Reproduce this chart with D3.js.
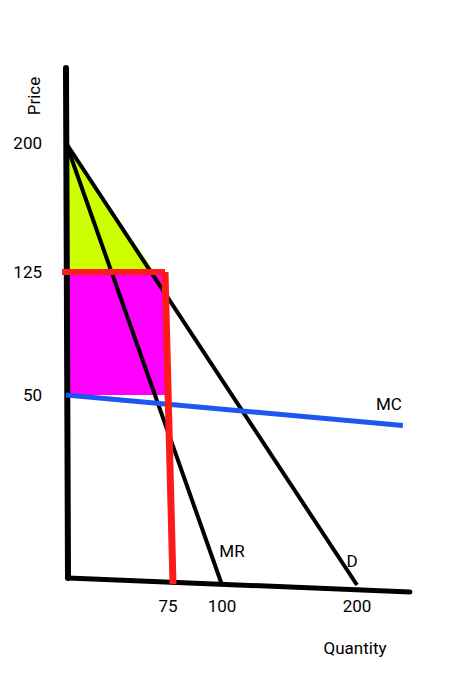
<!DOCTYPE html>
<html><head><meta charset="utf-8">
<script src="https://cdn.jsdelivr.net/npm/d3@7"></script>
<style>body{margin:0;background:#fff}</style>
</head><body>
<svg id="chart" width="450" height="700"></svg>
<script>
// data
const demand = [[0, 200], [200, 0]];
const marginalRevenue = [[0, 200], [100, 0]];
const marginalCost = [[0, 50], [234, 42]];
const monopolyQ = 75, monopolyP = 125, costP = 50;
const priceTicks = [200, 125, 50];
const quantityTicks = [75, 100, 200];

const svg = d3.select("#chart");
// the sketch is not drawn to scale, so use piecewise scales through its tick marks
const x = d3.scaleLinear().domain([0, 75, 100, 200]).range([66, 165, 222, 357]);
const y = d3.scaleLinear().domain([0, 50, 125, 200]).range([585, 395, 272, 143]);
const line = d3.line().x(d => x(d[0])).y(d => y(d[1]));

// consumer surplus triangle
svg.append("path")
  .attr("d", line([[0, 200], [0, monopolyP], [monopolyQ - 8, monopolyP]]) + "Z")
  .attr("fill", "#ccff00");

// monopoly profit rectangle
svg.append("rect")
  .attr("x", x(0)).attr("y", y(monopolyP))
  .attr("width", x(monopolyQ) - x(0))
  .attr("height", y(costP) - y(monopolyP))
  .attr("fill", "#ff00ff");

// axes (hand-drawn look: thick black)
svg.append("line").attr("x1", 66).attr("y1", 68).attr("x2", 68).attr("y2", 578)
  .attr("stroke", "#000").attr("stroke-width", 6).attr("stroke-linecap", "round");
svg.append("line").attr("x1", 68).attr("y1", 578).attr("x2", 410).attr("y2", 592)
  .attr("stroke", "#000").attr("stroke-width", 5).attr("stroke-linecap", "round");

// D and MR
[demand, marginalRevenue].forEach(d =>
  svg.append("path").attr("d", line(d)).attr("fill", "none")
    .attr("stroke", "#000").attr("stroke-width", 4));

// MC
svg.append("path").attr("d", line(marginalCost)).attr("fill", "none")
  .attr("stroke", "#1e56f0").attr("stroke-width", 5);

// red price / quantity lines
svg.append("line").attr("x1", x(-3)).attr("y1", y(monopolyP))
  .attr("x2", x(monopolyQ)).attr("y2", y(monopolyP))
  .attr("stroke", "#ff1a1a").attr("stroke-width", 6);
svg.append("line").attr("x1", x(monopolyQ)).attr("y1", y(monopolyP))
  .attr("x2", x(monopolyQ) + 8).attr("y2", 584)
  .attr("stroke", "#ff1a1a").attr("stroke-width", 7);

const font = "Roboto, sans-serif";
svg.selectAll(".pt").data(priceTicks).join("text")
  .attr("x", 42).attr("y", d => y(d) + 6).attr("text-anchor", "end")
  .attr("font-family", font).attr("font-size", 17).text(d => d);
svg.selectAll(".qt").data(quantityTicks).join("text")
  .attr("x", (d, i) => x(d) + (i === 0 ? 3 : 0)).attr("y", 612).attr("text-anchor", "middle")
  .attr("font-family", font).attr("font-size", 17).text(d => d);

svg.append("text").attr("transform", "translate(40,96) rotate(-90)")
  .attr("text-anchor", "middle").attr("font-family", font).attr("font-size", 17).text("Price");
svg.append("text").attr("x", 355).attr("y", 654).attr("text-anchor", "middle")
  .attr("font-family", font).attr("font-size", 17).text("Quantity");
svg.append("text").attr("x", 232).attr("y", 557).attr("text-anchor", "middle")
  .attr("font-family", font).attr("font-size", 17).text("MR");
svg.append("text").attr("x", 352).attr("y", 567).attr("text-anchor", "middle")
  .attr("font-family", font).attr("font-size", 17).text("D");
svg.append("text").attr("x", 389).attr("y", 410).attr("text-anchor", "middle")
  .attr("font-family", font).attr("font-size", 17).text("MC");
</script>
</body></html>
